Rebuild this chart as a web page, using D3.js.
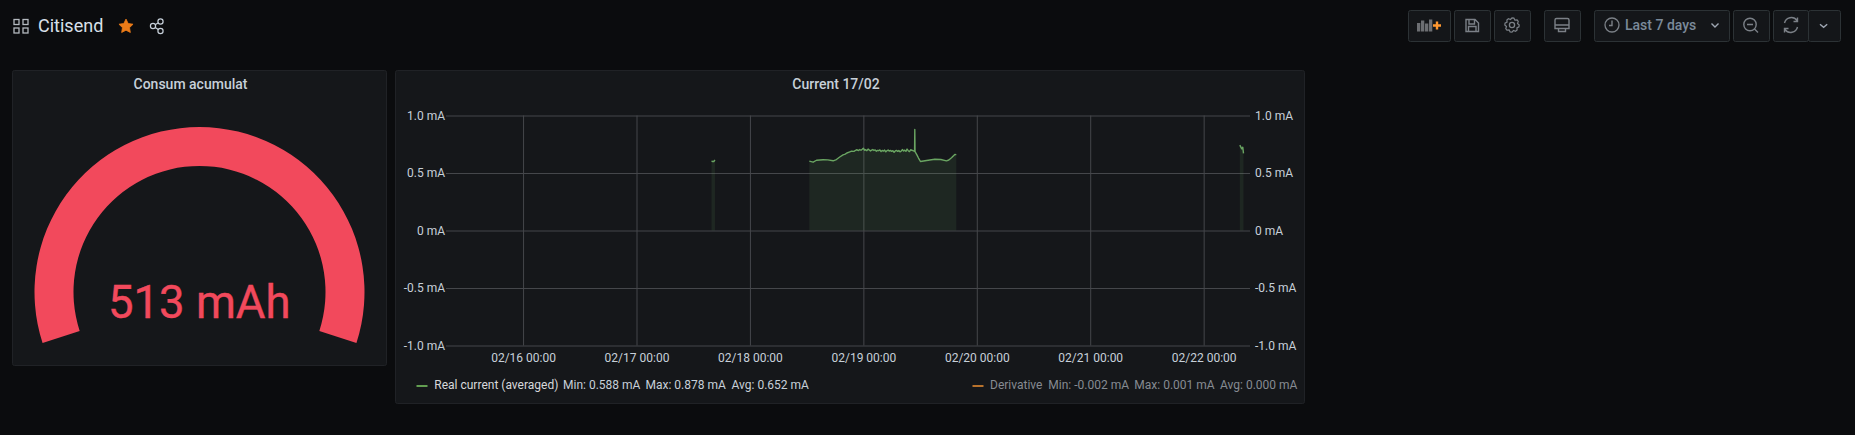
<!DOCTYPE html>
<html>
<head>
<meta charset="utf-8">
<title>Citisend</title>
<script src="https://cdn.jsdelivr.net/npm/d3@7"></script>
<style>
  html, body { margin: 0; padding: 0; background: #0b0c0e; overflow: hidden; }
  svg { display: block; }
  text { font-family: Roboto, sans-serif; }
  .domain { display: none; }
</style>
</head>
<body>
<div id="dashboard"></div>
<script>
// values, null breaks the line where there is no data
const currentTimes = [
  "02/17 15:52", "02/17 16:08", "02/17 16:21", "02/17 16:36", null,
  "02/18 12:34", "02/18 13:22", "02/18 14:05", "02/18 15:29", "02/18 16:29", "02/18 17:36",
  "02/18 18:18", "02/18 19:00", "02/18 19:42", "02/18 20:10", "02/18 20:30", "02/18 21:00",
  "02/18 21:30", "02/18 22:00", "02/18 22:33", "02/18 23:00", "02/18 23:15", "02/18 23:30",
  "02/18 23:45", "02/19 00:00", "02/19 00:15", "02/19 00:30", "02/19 00:45", "02/19 01:00",
  "02/19 01:15", "02/19 01:30", "02/19 01:45", "02/19 02:00", "02/19 02:15", "02/19 02:30",
  "02/19 02:45", "02/19 03:00", "02/19 03:15", "02/19 03:30", "02/19 03:45", "02/19 04:00",
  "02/19 04:15", "02/19 04:30", "02/19 04:45", "02/19 05:00", "02/19 05:15", "02/19 05:30",
  "02/19 05:45", "02/19 06:00", "02/19 06:15", "02/19 06:30", "02/19 06:45", "02/19 07:00",
  "02/19 07:15", "02/19 07:30", "02/19 07:45", "02/19 08:00", "02/19 08:15", "02/19 08:30",
  "02/19 08:45", "02/19 09:00", "02/19 09:15", "02/19 09:30", "02/19 09:45", "02/19 10:00",
  "02/19 10:15", "02/19 10:30", "02/19 10:50", "02/19 10:53", "02/19 10:56", "02/19 11:18",
  "02/19 11:40", "02/19 12:05", "02/19 13:22", "02/19 15:07", "02/19 16:24", "02/19 17:35",
  "02/19 18:05", "02/19 18:39", "02/19 19:21", "02/19 19:40", null,
  "02/22 07:39", "02/22 08:04", "02/22 08:17", "02/22 08:26"
];
const currentValues = [
  0.603, 0.600, 0.600, 0.613, null,
  0.603, 0.594, 0.611, 0.615, 0.614, 0.606,
  0.617, 0.639, 0.658, 0.664, 0.674, 0.682,
  0.690, 0.688, 0.702, 0.696, 0.704, 0.698,
  0.706, 0.716, 0.698, 0.702, 0.694, 0.708,
  0.700, 0.692, 0.699, 0.704, 0.696, 0.701,
  0.690, 0.697, 0.694, 0.701, 0.686, 0.696,
  0.690, 0.699, 0.684, 0.694, 0.700, 0.690,
  0.696, 0.688, 0.694, 0.680, 0.692, 0.697,
  0.688, 0.695, 0.684, 0.690, 0.704, 0.692,
  0.699, 0.688, 0.708, 0.694, 0.686, 0.702,
  0.698, 0.694, 0.688, 0.878, 0.685, 0.660,
  0.630, 0.600, 0.609, 0.620, 0.617, 0.606,
  0.613, 0.632, 0.661, 0.660, null,
  0.742, 0.710, 0.724, 0.670
];

const xTickLabels = ["02/16 00:00", "02/17 00:00", "02/18 00:00", "02/19 00:00", "02/20 00:00", "02/21 00:00", "02/22 00:00"];
const yTickValues = [-1, -0.5, 0, 0.5, 1];
const timeRange = ["02/15 08:45", "02/22 08:45"];

const gaugeValue = 513;
const gaugeMin = 0;
const gaugeMax = 100;

const legendCurrent = ["Real current (averaged)", "Min: 0.588 mA", "Max: 0.878 mA", "Avg: 0.652 mA"];
const legendDerivative = ["Derivative", "Min: -0.002 mA", "Max: 0.001 mA", "Avg: 0.000 mA"];

const parseTime = d3.utcParse("%Y/%m/%d %H:%M");
const toDate = (s) => parseTime("2021/" + s);

const svg = d3.select("#dashboard").append("svg")
    .attr("width", 1855)
    .attr("height", 435);

svg.append("rect").attr("width", 1855).attr("height", 435).attr("fill", "#0b0c0e");

function addPanel(x, y, w, h, title, titleX) {
    svg.append("rect")
        .attr("x", x + 0.5).attr("y", y + 0.5)
        .attr("width", w).attr("height", h)
        .attr("rx", 2)
        .attr("fill", "#15171a")
        .attr("stroke", "#202226");
    svg.append("text")
        .attr("x", titleX).attr("y", y + 19)
        .attr("text-anchor", "middle")
        .attr("fill", "#c7d0d9")
        .style("font-size", "14px")
        .style("font-weight", 500)
        .text(title);
}

addPanel(12, 70, 374, 295, "Consum acumulat", 190.5);
addPanel(395, 70, 909, 333, "Current 17/02", 836);

// gauge
const gaugeAngle = d3.scaleLinear()
    .domain([gaugeMin, gaugeMax])
    .range([-108 * Math.PI / 180, 108 * Math.PI / 180])
    .clamp(true);

const gaugeArc = d3.arc()
    .innerRadius(126)
    .outerRadius(165)
    .startAngle(gaugeAngle(gaugeMin))
    .endAngle(gaugeAngle(gaugeValue));

svg.append("path")
    .attr("transform", "translate(199.5,292)")
    .attr("d", gaugeArc())
    .attr("fill", "#f2495c");

svg.append("text")
    .attr("x", 199.3).attr("y", 318)
    .attr("text-anchor", "middle")
    .attr("fill", "#f2495c")
    .attr("stroke", "#f2495c")
    .attr("stroke-width", 0.4)
    .style("font-size", "45.5px")
    .text(gaugeValue + " mAh");

// graph
const x = d3.scaleUtc()
    .domain(timeRange.map(toDate))
    .range([451, 1245]);

const y = d3.scaleLinear()
    .domain([-1, 1])
    .range([345.5, 115.5]);

const yFormat = (d) => d === 0 ? "0 mA" : d.toFixed(1) + " mA";

function styleAxis(g) {
    g.selectAll("text").attr("fill", "#c7d0d9").style("font-size", "12px");
    g.selectAll("line").attr("stroke", "#45474b");
}

svg.append("g")
    .attr("transform", "translate(0,345.5)")
    .call(d3.axisBottom(x)
        .tickValues(xTickLabels.map(toDate))
        .tickFormat(d3.utcFormat("%m/%d %H:%M"))
        .tickSize(-230)
        .tickPadding(8))
    .call(styleAxis);

svg.append("g")
    .attr("transform", "translate(451,0)")
    .call(d3.axisLeft(y)
        .tickValues(yTickValues)
        .tickFormat(yFormat)
        .tickSize(-794)
        .tickPadding(6))
    .call(styleAxis);

svg.append("g")
    .attr("transform", "translate(1245,0)")
    .call(d3.axisRight(y)
        .tickValues(yTickValues)
        .tickFormat(yFormat)
        .tickSize(5)
        .tickPadding(5))
    .call(styleAxis);

svg.append("g")
    .attr("transform", "translate(451,0)")
    .call(d3.axisLeft(y)
        .tickValues(yTickValues)
        .tickFormat("")
        .tickSize(5))
    .call(styleAxis);

const points = currentTimes.map((t, i) => ({
    time: t ? toDate(t) : null,
    value: currentValues[i]
}));

const area = d3.area()
    .defined((d) => d.value !== null)
    .x((d) => x(d.time))
    .y0(y(0))
    .y1((d) => y(d.value));

const line = d3.line()
    .defined((d) => d.value !== null)
    .x((d) => x(d.time))
    .y((d) => y(d.value));

svg.append("path")
    .attr("d", area(points))
    .attr("fill", "#73bf69")
    .attr("fill-opacity", 0.1);

svg.append("path")
    .attr("d", line(points))
    .attr("fill", "none")
    .attr("stroke", "#6aa562")
    .attr("stroke-width", 1.4)
    .attr("stroke-linejoin", "round");

// legend
function addLegend(labels, xs, dashX, dashColor, firstColor, restColor) {
    svg.append("rect")
        .attr("x", dashX).attr("y", 385)
        .attr("width", 11).attr("height", 2)
        .attr("fill", dashColor);
    svg.selectAll(null)
        .data(labels)
        .enter()
        .append("text")
        .attr("x", (d, i) => xs[i])
        .attr("y", 388.8)
        .attr("fill", (d, i) => i === 0 ? firstColor : restColor)
        .style("font-size", "12px")
        .text((d) => d);
}

addLegend(legendCurrent, [434.3, 563, 645.5, 731.5], 416.5, "#629e51", "#d8d9da", "#c7d0d9");
addLegend(legendDerivative, [990, 1048.3, 1134.3, 1220], 972.5, "#b8722c", "#868b92", "#868b92");

// header
svg.append("g")
    .selectAll("rect")
    .data([[14, 19.5], [23, 19.5], [14, 28], [23, 28]])
    .enter()
    .append("rect")
    .attr("x", (d) => d[0]).attr("y", (d) => d[1])
    .attr("width", 5).attr("height", 5)
    .attr("fill", "none")
    .attr("stroke", "#b4b9bf")
    .attr("stroke-width", 1.3);

svg.append("text")
    .attr("x", 38).attr("y", 32)
    .attr("fill", "#d8e0ea")
    .style("font-size", "18px")
    .text("Citisend");

// star, five points with a fat inner radius like the grafana icon
svg.append("path")
    .attr("transform", "translate(126,26.5)")
    .attr("d", d3.lineRadial().curve(d3.curveLinearClosed)(
        d3.range(10).map((i) => [i * Math.PI / 5, i % 2 ? 3.7 : 7.4])))
    .attr("fill", "#eb7b18")
    .attr("stroke", "#eb7b18")
    .attr("stroke-width", 0.8)
    .attr("stroke-linejoin", "round");

// share icon
const shareNodes = [[153, 26], [160.5, 21.5], [160.5, 31]];
svg.append("path")
    .attr("d", d3.line()([shareNodes[1], shareNodes[0], shareNodes[2]]))
    .attr("fill", "none")
    .attr("stroke", "#c7d0d9")
    .attr("stroke-width", 1.2);
svg.selectAll(null)
    .data(shareNodes)
    .enter()
    .append("circle")
    .attr("cx", (d) => d[0]).attr("cy", (d) => d[1])
    .attr("r", 2.6)
    .attr("fill", "#0b0c0e")
    .attr("stroke", "#c7d0d9")
    .attr("stroke-width", 1.2);

// toolbar
const toolbarButtons = [
    [1408, 42], [1454, 36], [1494, 36], [1544, 36], [1594, 135], [1733, 36], [1773, 35], [1808, 32]
];
svg.selectAll(null)
    .data(toolbarButtons)
    .enter()
    .append("rect")
    .attr("x", (d) => d[0] + 0.5).attr("y", 10.5)
    .attr("width", (d) => d[1]).attr("height", 31)
    .attr("rx", 2)
    .attr("fill", "#141619")
    .attr("stroke", "#2c3235");

const iconColor = "#7b8087";
function icon(d, color) {
    svg.append("path")
        .attr("d", d)
        .attr("fill", "none")
        .attr("stroke", color || iconColor)
        .attr("stroke-width", 1.4);
}

// add panel
svg.selectAll(null)
    .data([[1417, 8.5], [1421, 11], [1425, 8], [1429, 12]])
    .enter()
    .append("rect")
    .attr("x", (d) => d[0]).attr("y", (d) => 31.5 - d[1])
    .attr("width", 3.3).attr("height", (d) => d[1])
    .attr("fill", "#6c6e72");
svg.append("path")
    .attr("d", "M1433 25.5h8M1437 21.5v8")
    .attr("stroke", "#ff9830")
    .attr("stroke-width", 2.4);

// save
icon("M1466 19.5h9l3.5 3.5v8.5h-12.5zM1469 19.5v4.5h5.5v-4.5M1468.5 31.5v-5h7.5v5");
// settings
svg.append("circle").attr("cx", 1512).attr("cy", 25).attr("r", 2.6)
    .attr("fill", "none").attr("stroke", iconColor).attr("stroke-width", 1.3);
svg.append("path")
    .attr("transform", "translate(1512,25)")
    .attr("d", d3.lineRadial().curve(d3.curveLinearClosed)(
        d3.range(24).map((i) => [i * Math.PI / 12, [7.2, 7.2, 5.7][i % 3]])))
    .attr("fill", "none").attr("stroke", iconColor).attr("stroke-width", 1.2);
// tv
icon("M1556.5 18.5h11a1.5 1.5 0 0 1 1.5 1.5v8.5h-14v-8.5a1.5 1.5 0 0 1 1.5-1.5zM1555 25h14M1558.5 28.5v3h7v-3");
// clock
svg.append("circle").attr("cx", 1612).attr("cy", 25).attr("r", 7)
    .attr("fill", "none").attr("stroke", iconColor).attr("stroke-width", 1.3);
icon("M1612 20.5v5h-3", iconColor);

svg.append("text")
    .attr("x", 1625).attr("y", 30)
    .attr("fill", "#7b8a9a")
    .style("font-size", "14px")
    .style("font-weight", 500)
    .text("Last 7 days");

icon("M1711.5 23.5l3.5 3.5l3.5-3.5", "#9fa7b3");
// zoom out
svg.append("circle").attr("cx", 1750).attr("cy", 24.5).attr("r", 6.2)
    .attr("fill", "none").attr("stroke", iconColor).attr("stroke-width", 1.4);
icon("M1747 24.5h6M1754.5 29l3.5 3.5");
// refresh
icon("M1784.5 23a7 7 0 0 1 12.5-2.5M1797.5 17.5v4h-4M1797.5 27a7 7 0 0 1-12.5 2.5M1784.5 32.5v-4h4");
icon("M1820 24.3l3.6 3l3.6-3", "#9fa7b3");
</script>
</body>
</html>
